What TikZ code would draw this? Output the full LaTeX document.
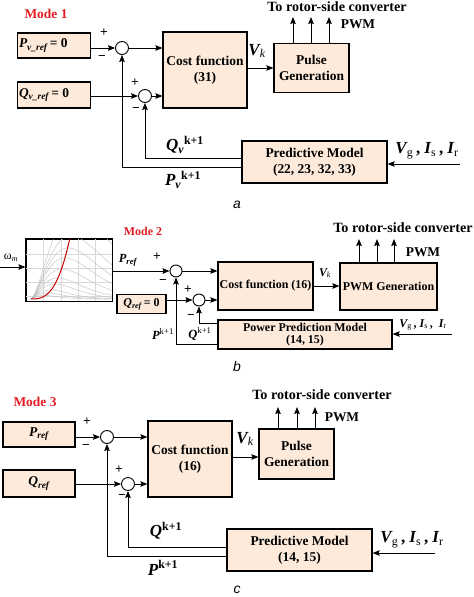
\documentclass[tikz,border=0pt]{standalone}
\usepackage{fontspec}
\setmainfont{Liberation Serif}
\newfontfamily\capfont{Liberation Sans}
\usetikzlibrary{arrows.meta}
\definecolor{boxfill}{RGB}{253,234,218}
\definecolor{modered}{RGB}{228,28,36}
\newcommand\fA{\fontsize{13.5}{16}\selectfont\bfseries}
\newcommand\fT{\fontsize{14.2}{16}\selectfont\bfseries}
\newcommand\fB{\fontsize{12}{13.5}\selectfont\bfseries}
\newcommand\fL{\fontsize{17}{19}\selectfont\bfseries}
\newcommand\fM{\fontsize{12.5}{14}\selectfont\bfseries}
\newcommand\fC{\fontsize{14}{16}\selectfont\capfont\itshape}
\newcommand\bi[1]{{\bfseries\itshape #1}}
\tikzset{
  blk/.style={draw, line width=1.2pt, fill=boxfill, inner sep=0pt, align=center},
  sumc/.style={draw, circle, line width=0.9pt, minimum size=13bp, inner sep=0pt, fill=white},
  sumd/.style={sumc, minimum size=12bp},
  conn/.style={line width=0.9pt, -{Stealth[length=7bp,width=5.5bp,inset=1bp]}},
  lbl/.style={inner sep=0pt},
  modelbl/.style={inner sep=0pt, text=modered},
  sgn/.style={inner sep=0pt, font=\fA},
}
\begin{document}
\begin{tikzpicture}[x=1bp,y=-1bp]
\useasboundingbox (0,0) rectangle (474,597);

% ================= Mode 1 =================
\node[modelbl, font=\fA] (m1) at (46,14) {Mode 1};
\node[blk, font=\fA, minimum width=73bp, minimum height=25bp] (pv) at (54,45.5)
  {\makebox[70bp][l]{\bi{P}\textsubscript{\bi{v\_ref}}\,= 0}};
\node[blk, font=\fA, minimum width=73bp, minimum height=26bp] (qv) at (54,95)
  {\makebox[70bp][l]{\bi{Q}\textsubscript{\bi{v\_ref}}\,= 0}};
\node[sumc] (s1) at (122,48) {};
\node[sumc] (s2) at (145,96) {};
\node[blk, font=\fA, minimum width=84bp, minimum height=76bp] (cost) at (205,70) {Cost function\\(31)};
\node[blk, font=\fA, minimum width=75bp, minimum height=49bp] (pulse) at (311.5,68) {Pulse\\Generation};
\node[blk, font=\fA, minimum width=145bp, minimum height=42bp] (pred) at (314.5,162) {Predictive Model\\(22, 23, 32, 33)};

\node[sgn] (p1a) at (104,33) {+};
\node[sgn] (n1a) at (102,58) {−};
\node[sgn] (p1b) at (135,83) {+};
\node[sgn] (n1b) at (136,110) {−};

\draw[conn] (pv.east |- s1) -- (s1.west);
\draw[conn] (qv.east |- s2) -- (s2.west);
\draw[conn] (s1.east) -- (s1 -| cost.west);
\draw[conn] (s2.east) -- (s2 -| cost.west);
\draw[conn] (cost.east |- pulse) -- (pulse.west);
\node[lbl, font=\fL] (vk1) at (257,51) {\bi{V}\textsubscript{\mdseries\itshape k}};

\coordinate (o1a) at (293,17);
\coordinate (o1b) at (311,17);
\coordinate (o1c) at (329,17);
\draw[conn] (pulse.north -| o1a) -- (o1a);
\draw[conn] (pulse.north -| o1b) -- (o1b);
\draw[conn] (pulse.north -| o1c) -- (o1c);
\node[lbl, font=\fT] (rsc1) at (337,6.5) {To rotor-side converter};
\node[lbl, font=\fA] (pwm1) at (358,24) {PWM};

\coordinate (in1) at (460,164);
\draw[conn] (in1) -- (in1 -| pred.east);
\node[lbl, font=\fL] (vg1) at (427,151) {\bi{V}\textsubscript{\mdseries g}\,, \bi{I}\textsubscript{\mdseries s}\,, \bi{I}\textsubscript{\mdseries r}};

\draw[conn] ([yshift=4bp]pred.west) -| (s2.south);
\draw[conn] ([yshift=-5bp]pred.west) -| (s1.south);
\node[lbl, font=\fL] (q1) at (185,145) {\bi{Q}\textsubscript{\bi{v}}\textsuperscript{k+1}};
\node[lbl, font=\fL] (pp1) at (183,180) {\bi{P}\textsubscript{\bi{v}}\textsuperscript{k+1}};

\node[lbl, font=\fC] (capa) at (237,205) {a};

% ================= Mode 2 =================
\node[modelbl, font=\fB] (m2) at (143,231) {Mode 2};
\node[draw, line width=1pt, fill=white, minimum width=86bp, minimum height=62bp, inner sep=0pt] (chart) at (69,270) {};
\begin{scope}
  \clip (26,239) rectangle (112,301);
  \foreach \gx in {43,61,78,95} \draw[gray!30, line width=0.4pt] (\gx,239) -- (\gx,301);
  \foreach \gy in {254,268,282,296} \draw[gray!30, line width=0.4pt] (26,\gy) -- (112,\gy);
  \foreach \p/\h in {15/3.5,18/6,21/9,25/15,28/21,32/30,35/41,38/51,41/63,45/85}
    \draw[gray!50, line width=0.4pt] plot[domain=30:112, samples=50, smooth]
      (\x, {299 - \h*pow(((\x-30)/\p)*exp(1-(\x-30)/\p),2)});
  \draw[red!80!black, line width=1pt] plot[domain=31:72, samples=30, smooth]
      (\x, {299 - 57*pow((\x-30)/39,3)});
\end{scope}
\draw[line width=1pt] (chart.north west) rectangle (chart.south east);
\coordinate (wm) at (0,267);
\draw[conn] (wm) -- (wm -| chart.west);
\node[lbl, font=\fontsize{12}{13}\selectfont] (wml) at (11,258) {ω\textsubscript{\itshape m}};

\node[sumd] (s1b) at (176,271) {};
\node[sumd] (s2b) at (199,300) {};
\node[blk, font=\fB, minimum width=49bp, minimum height=19bp] (qref) at (141.5,304) {\bi{Q}\textsubscript{\bi{ref}}\,= 0};
\node[blk, font=\fB, minimum width=95bp, minimum height=48bp] (costb) at (265.5,286) {Cost function (16)};
\node[blk, font=\fB, minimum width=97bp, minimum height=47bp] (pwm) at (388.5,286.5) {PWM Generation};
\node[blk, font=\fB, minimum width=174bp, minimum height=29bp] (ppm) at (305,334.5) {Power Prediction Model\\[-1bp](14, 15)};

\node[sgn] (p2a) at (157,257) {+};
\node[sgn] (n2a) at (163,282) {−};
\node[sgn] (p2b) at (188,290) {+};
\node[sgn] (n2b) at (191,317) {−};

\draw[conn] (chart.east |- s1b) -- (s1b.west);
\node[lbl, font=\fM] (pref2) at (128,260) {\bi{P}\textsubscript{\bi{ref}}};
\draw[conn] (qref.east |- s2b) -- (s2b.west);
\draw[conn] (s1b.east) -- (s1b -| costb.west);
\draw[conn] (s2b.east) -- (s2b -| costb.west);
\draw[conn] (costb.east) -- (costb.east -| pwm.west);
\node[lbl, font=\fB] (vk2) at (325,273) {\bi{V}\textsubscript{\mdseries\itshape k}};

\coordinate (o2a) at (359,239);
\coordinate (o2b) at (377,239);
\coordinate (o2c) at (394,239);
\draw[conn] (pwm.north -| o2a) -- (o2a);
\draw[conn] (pwm.north -| o2b) -- (o2b);
\draw[conn] (pwm.north -| o2c) -- (o2c);
\node[lbl, font=\fT] (rsc2) at (403,228) {To rotor-side converter};
\node[lbl, font=\fA] (pwm2) at (423,252) {PWM};

\coordinate (in2) at (452,334);
\draw[conn] (in2) -- (in2 -| ppm.east);
\node[lbl, font=\fB] (vg2) at (423,325) {\bi{V}\textsubscript{\mdseries g}\,, \bi{I}\textsubscript{\mdseries s}\,, \ \bi{I}\textsubscript{\mdseries r}};

\draw[conn] ([yshift=11.5bp]ppm.west) -| (s2b.south);
\draw[conn] ([yshift=-9.5bp]ppm.west) -| (s1b.south);
\node[lbl, font=\fM] (pk2) at (163,334) {\bi{P}\textsuperscript{\mdseries k+1}};
\node[lbl, font=\fM] (qk2) at (200,334) {\bi{Q}\textsuperscript{\mdseries k+1}};

\node[lbl, font=\fC] (capb) at (237,367) {b};

% ================= Mode 3 =================
\node[modelbl, font=\fA] (m3) at (35,402) {Mode 3};
\node[blk, font=\fA, minimum width=72bp, minimum height=25bp] (pr) at (39,434.5) {\bi{P}\textsubscript{\bi{ref}}};
\node[blk, font=\fA, minimum width=72bp, minimum height=27bp] (qr) at (39,483.5) {\bi{Q}\textsubscript{\bi{ref}}};
\node[sumc] (s1c) at (107,437) {};
\node[sumc] (s2c) at (128,484) {};
\node[blk, font=\fA, minimum width=84bp, minimum height=76bp] (costc) at (190,459) {Cost function\\(16)};
\node[blk, font=\fA, minimum width=75bp, minimum height=50bp] (pulsec) at (296.5,454) {Pulse\\Generation};
\node[blk, font=\fA, minimum width=145bp, minimum height=42bp] (predc) at (299.5,550) {Predictive Model\\(14, 15)};

\node[sgn] (p3a) at (87,422) {+};
\node[sgn] (n3a) at (86,447) {−};
\node[sgn] (p3b) at (119,470) {+};
\node[sgn] (n3b) at (122,497) {−};

\draw[conn] (pr.east |- s1c) -- (s1c.west);
\draw[conn] (qr.east |- s2c) -- (s2c.west);
\draw[conn] (s1c.east) -- (s1c -| costc.west);
\draw[conn] (s2c.east) -- (s2c -| costc.west);
\coordinate (vk3a) at (232,457);
\draw[conn] (vk3a) -- (vk3a -| pulsec.west);
\node[lbl, font=\fL] (vk3) at (245,439) {\bi{V}\textsubscript{\mdseries\itshape k}};

\coordinate (o3a) at (278,407);
\coordinate (o3b) at (297,407);
\coordinate (o3c) at (315,407);
\draw[conn] (pulsec.north -| o3a) -- (o3a);
\draw[conn] (pulsec.north -| o3b) -- (o3b);
\draw[conn] (pulsec.north -| o3c) -- (o3c);
\node[lbl, font=\fT] (rsc3) at (322,395) {To rotor-side converter};
\node[lbl, font=\fA] (pwm3) at (342,417) {PWM};

\coordinate (in3) at (435,553);
\draw[conn] (in3) -- (in3 -| predc.east);
\node[lbl, font=\fL] (vg3) at (412,540) {\bi{V}\textsubscript{\mdseries g}\,, \bi{I}\textsubscript{\mdseries s}\,, \bi{I}\textsubscript{\mdseries r}};

\draw[conn] ([yshift=3bp]predc.west) -| (s2c.south);
\draw[conn] ([yshift=-6bp]predc.west) -| (s1c.south);
\node[lbl, font=\fL] (qk3) at (166,531) {\bi{Q}\textsuperscript{k+1}};
\node[lbl, font=\fL] (pk3) at (163,568) {\bi{P}\textsuperscript{k+1}};

\node[lbl, font=\fC] (capc) at (237,590) {c};
\end{tikzpicture}
\end{document}
